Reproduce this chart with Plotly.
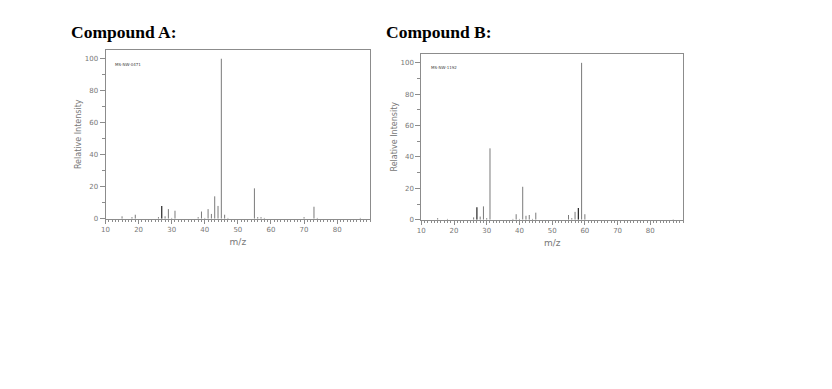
import plotly.graph_objects as go

W, H = 832, 389

# Compound A spectrum (m/z, relative intensity)
mz_a = [15, 18, 19, 26, 27, 28, 29, 30, 31, 38, 39, 40, 41, 42, 43, 44, 45, 46, 47, 55, 56, 57, 58, 70, 73, 74, 87]
int_a = [1.5, 1, 2.5, 1, 8, 1.5, 6, 0.5, 5, 1, 4.5, 0.5, 6, 3, 14, 8, 100, 2.5, 0.5, 19, 1, 1, 0.5, 1, 7.5, 0.5, 0.5]
dark_a = [27]

# Compound B spectrum
mz_b = [15, 18, 26, 27, 28, 29, 30, 31, 38, 39, 40, 41, 42, 43, 44, 45, 55, 56, 57, 58, 59, 60, 87]
int_b = [1, 0.5, 1.5, 8, 2, 8.5, 1, 45.5, 0.5, 3.5, 0.5, 21, 2.5, 3, 0.5, 4.5, 3, 1, 5, 7.5, 100, 3.5, 0.3]
dark_b = [27, 58]

titles = ["Compound A:", "Compound B:"]
codes = ["MS-NW-0471", "MS-NW-1192"]
x_title = "m/z"
y_title = "Relative Intensity"
x_ticks = [10, 20, 30, 40, 50, 60, 70, 80]
y_ticks = [0, 20, 40, 60, 80, 100]

GRAY = "#7a7a7a"
FRAME = "#8c8c8c"
TXT = "#777777"


def stems(mz, vals, keep):
    xs, ys = [], []
    for m, v in zip(mz, vals):
        if keep(m):
            xs += [m, m, None]
            ys += [0, v, None]
    return xs, ys


fig = go.Figure()

panels = [
    dict(mz=mz_a, it=int_a, dark=dark_a, xd=[102 / W, 368 / W], yd=[(H - 221) / H, (H - 50.3) / H], yr=[0, 105.6], ax="", tx=65),
    dict(mz=mz_b, it=int_b, dark=dark_b, xd=[419.3 / W, 682.3 / W], yd=[(H - 222) / H, (H - 54.3) / H], yr=[0, 105.8], ax="2", tx=381.5),
]

for i, p in enumerate(panels):
    xa = "x" + p["ax"]
    ya = "y" + p["ax"]
    xs, ys = stems(p["mz"], p["it"], lambda m: m not in p["dark"])
    fig.add_trace(go.Scatter(x=xs, y=ys, mode="lines", line=dict(color=GRAY, width=1),
                             xaxis=xa, yaxis=ya, showlegend=False, hoverinfo="skip"))
    xs, ys = stems(p["mz"], p["it"], lambda m: m in p["dark"])
    fig.add_trace(go.Scatter(x=xs, y=ys, mode="lines", line=dict(color="#111111", width=1.1),
                             xaxis=xa, yaxis=ya, showlegend=False, hoverinfo="skip"))
    xkey = "xaxis" + p["ax"]
    ykey = "yaxis" + p["ax"]
    fig.update_layout(**{
        xkey: dict(domain=p["xd"], anchor=ya, range=[10, 90], showgrid=False, zeroline=False,
                   showline=True, mirror=True, linecolor=FRAME, linewidth=1,
                   tickmode="array", tickvals=x_ticks, ticks="outside", ticklen=4, tickcolor=FRAME,
                   tickfont=dict(family="DejaVu Sans", size=7, color=TXT),
                   minor=dict(dtick=1, tick0=10, ticks="outside", ticklen=2, tickcolor=FRAME),
                   title=dict(text=x_title, font=dict(family="DejaVu Sans", size=9, color=TXT), standoff=5)),
        ykey: dict(domain=p["yd"], anchor=xa, range=p["yr"], showgrid=False, zeroline=False,
                   showline=True, mirror=True, linecolor=FRAME, linewidth=1,
                   tickmode="array", tickvals=y_ticks, ticks="outside", ticklen=5, tickcolor=FRAME,
                   tickfont=dict(family="DejaVu Sans", size=7, color=TXT),
                   minor=dict(dtick=10, tick0=0, ticks="outside", ticklen=3, tickcolor=FRAME),
                   title=dict(text=y_title, font=dict(family="DejaVu Sans", size=8, color=TXT), standoff=1)),
    })
    fig.add_annotation(text="<b>" + titles[i] + "</b>", x=p["tx"] / W, y=(H - 32) / H,
                       xref="paper", yref="paper", xanchor="left", yanchor="middle", showarrow=False,
                       font=dict(family="Liberation Serif", size=17.5, color="#000000"))
    fig.add_annotation(text=codes[i], x=0.03, y=0.915, xref=xa + " domain", yref=ya + " domain",
                       xanchor="left", yanchor="middle", showarrow=False,
                       font=dict(family="DejaVu Sans", size=4, color="#444444"))

fig.update_layout(width=W, height=H, margin=dict(l=0, r=0, t=0, b=0),
                  paper_bgcolor="white", plot_bgcolor="white")

fig.write_html("out.html")
